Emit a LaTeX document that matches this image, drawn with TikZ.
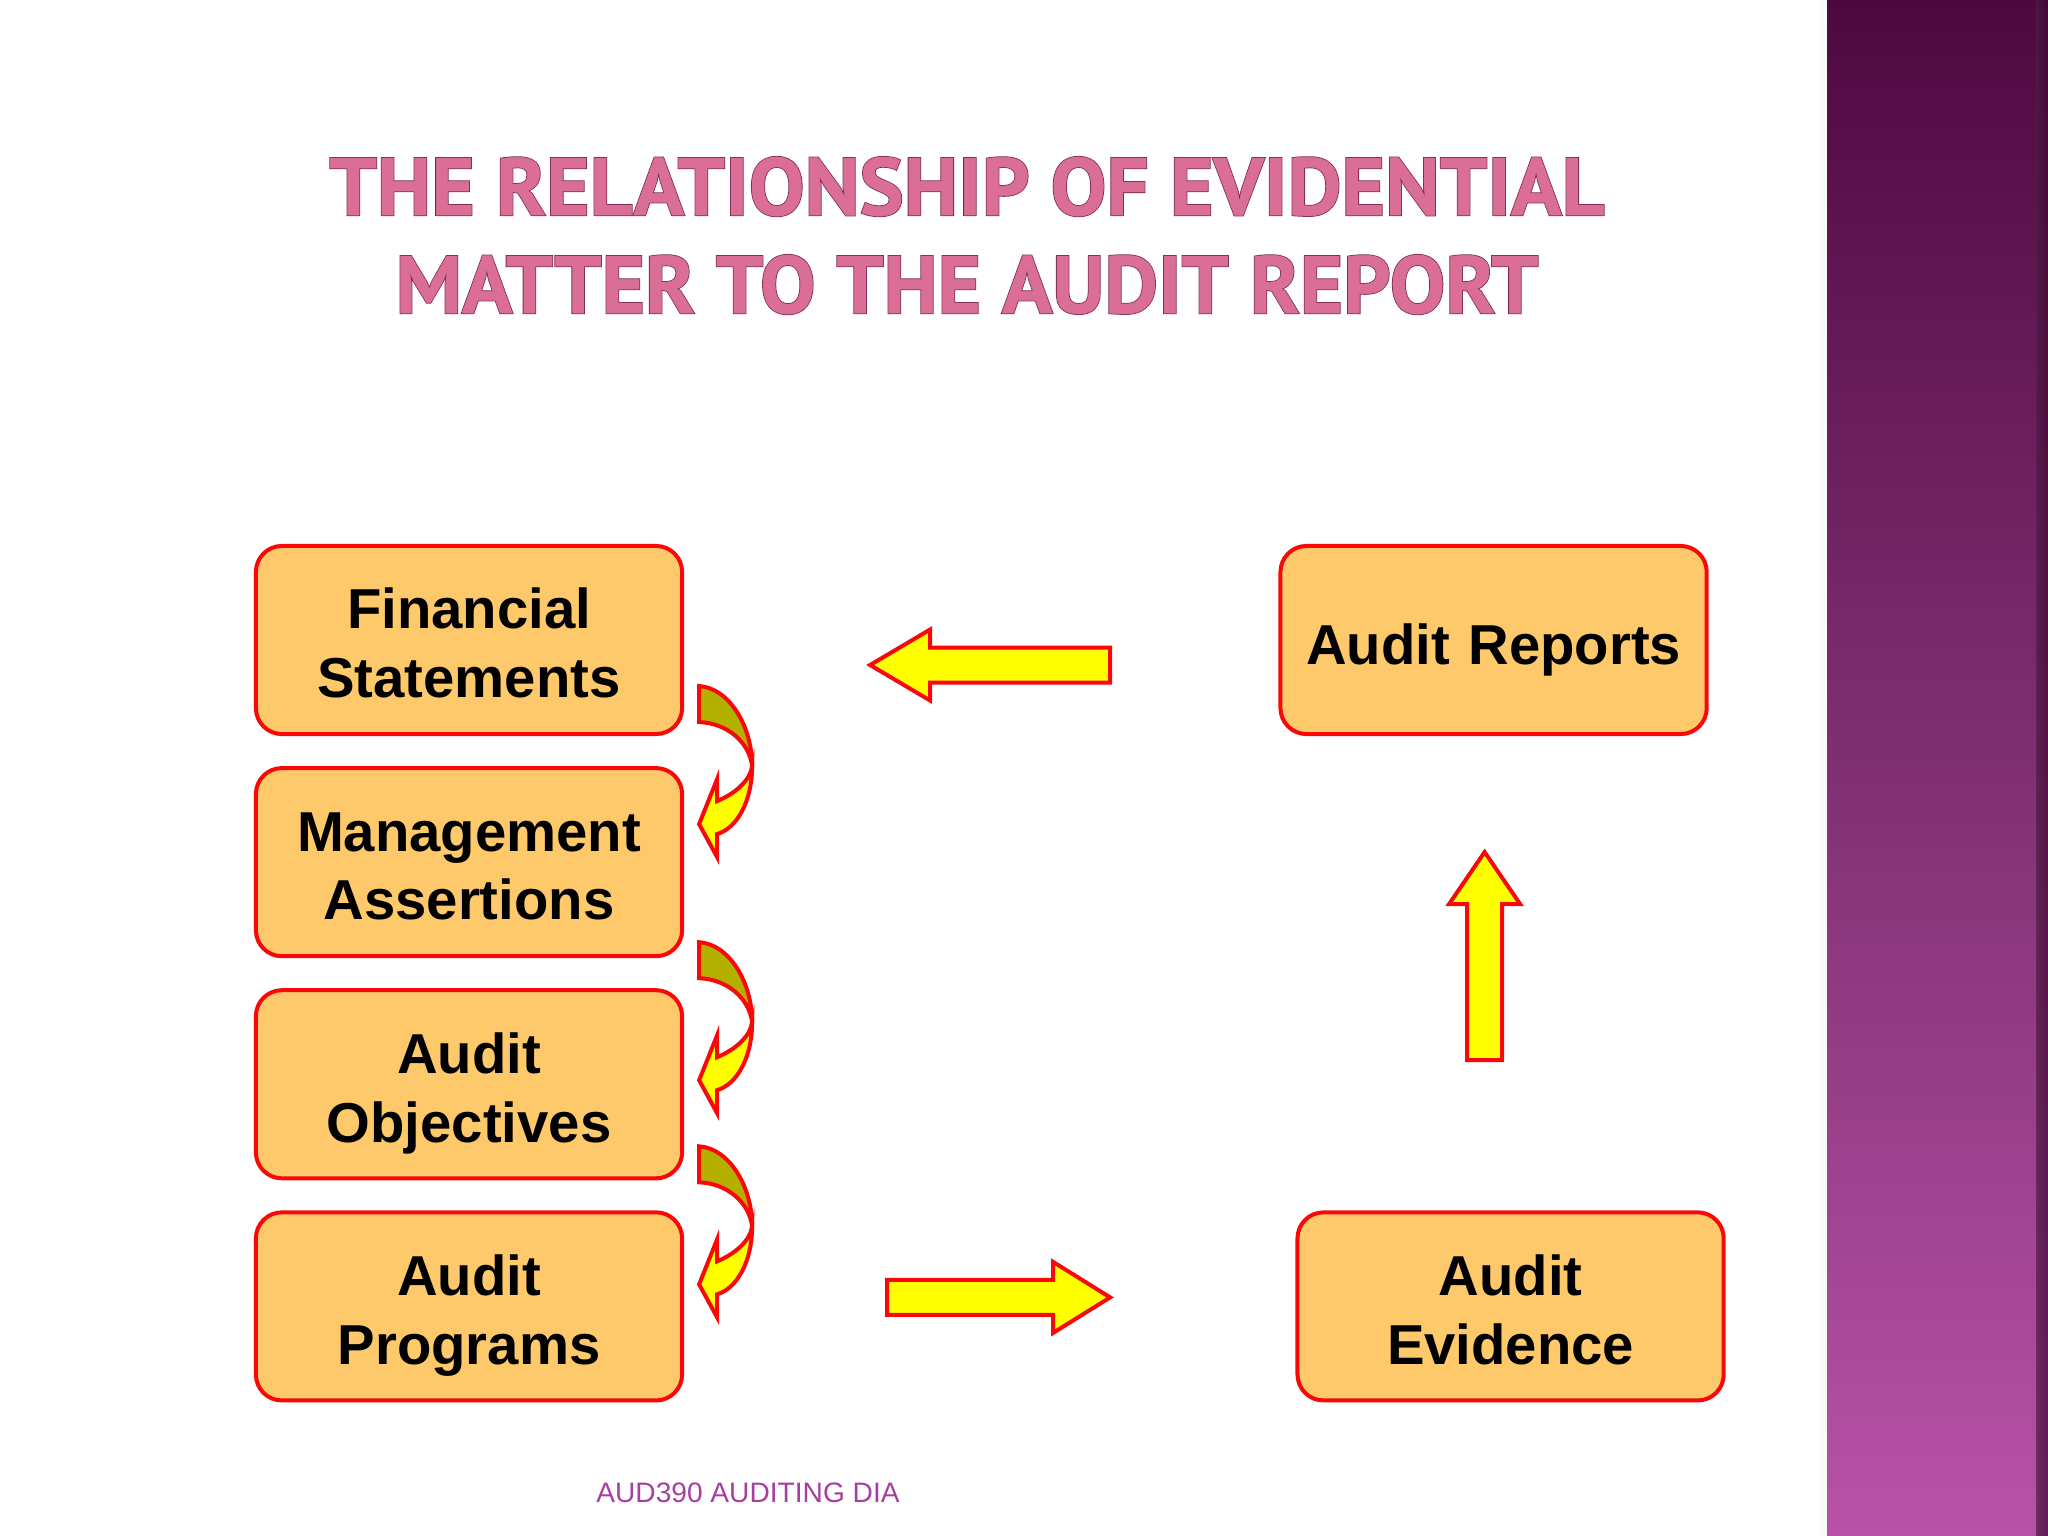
\documentclass[tikz,border=0pt]{standalone}
\usepackage{fontspec}
\setmainfont{Liberation Sans}
\newfontfamily\titlefont[FakeBold=0.6]{PT Sans Bold}
\newfontfamily\titleedgefont[FakeBold=2.5]{PT Sans Bold}
\usepackage{tikz}
\usetikzlibrary{calc}
\usetikzlibrary{positioning}

\definecolor{boxorange}{RGB}{254,201,106}
\definecolor{arrowred}{RGB}{250,8,8}
\definecolor{arrowyellow}{RGB}{255,255,0}
\definecolor{arrowolive}{RGB}{180,176,0}
\definecolor{titlepink}{RGB}{218,110,150}
\definecolor{titleedge}{RGB}{120,40,80}
\definecolor{footpurple}{RGB}{168,62,160}
\definecolor{bartop}{RGB}{78,8,64}
\definecolor{barmid}{RGB}{128,48,114}
\definecolor{barbottom}{RGB}{184,82,168}

\newcommand{\titleline}[2]{\resizebox{#1}{0.58cm}{%
  \rlap{\textcolor{titleedge}{\titleedgefont #2}}\textcolor{titlepink}{\titlefont #2}}}

\tikzset{
    stage/.style={
           rectangle,
           rounded corners=0.26cm,
           draw=arrowred, line width=0.04cm,
           fill=boxorange,
           minimum width=4.26cm,
           minimum height=1.88cm,
           text width=4.1cm,
           text height=12pt, text depth=18.3pt,
           inner sep=2pt,
           align=center,
           font=\bfseries\fontsize{16}{19.6}\selectfont,
           },
    blockarrow/.style={draw=arrowred, line width=0.04cm, line join=miter},
    % straight block arrow, tip at the origin, pointing left
    pics/flatarrow/.style 2 args={code={
        \draw[blockarrow, fill=arrowyellow] (0,0) -- (#2,-35.5) -- (#2,-17.5) -- (#1,-17.5)
           -- (#1,17.5) -- (#2,17.5) -- (#2,35.5) -- cycle;
    }},
    % curved block arrow, origin at the top of its tail
    pics/bendarrow/.style={code={
        \draw[blockarrow, fill=arrowolive] (0,0) .. controls (30,2) and (53,40) .. (53,80)
           .. controls (50,56) and (28,37) .. (0,36) -- cycle;
        \draw[blockarrow, fill=arrowyellow] (53,80) .. controls (53,115) and (38,142) .. (18,148)
           -- (18,171) -- (0,138) -- (18,93) -- (18,115)
           .. controls (35,108) and (51,95) .. (53,80) -- cycle;
    }},
}

\begin{document}
\begin{tikzpicture}[x=0.01cm, y=-0.01cm]

 \useasboundingbox (0,0) rectangle (2048,1536);
 \fill[white!98!black] (0,0) rectangle (2048,1536);
 \fill[white] (0,0) rectangle (1820,1536);

 % purple band on the right
 \shade[top color=bartop, bottom color=barbottom, middle color=barmid]
   (1827,0) rectangle (2048,1536);
 \shade[left color=barmid!60!black, right color=bartop!80!black, opacity=0.7]
   (2036,0) rectangle (2048,1536);

 % title
 \node[anchor=base, inner sep=0pt] (Title1) at (967,215) {\titleline{12.74cm}{THE RELATIONSHIP OF EVIDENTIAL}};
 \node[anchor=base, inner sep=0pt] (Title2) at (967,313) {\titleline{11.42cm}{MATTER TO THE AUDIT REPORT}};


 \node[stage] (FinStat) at (469,640) {Financial\\Statements};

 \node[stage,        % layout (defined above)
  below=0.30cm of FinStat] (Assert)
  {Management\\Assertions};

 \node[stage,
  below=0.30cm of Assert] (Objectives)
  {Audit\\Objectives};

 \node[stage,
  below=0.30cm of Objectives] (Programs)
  {Audit\\Programs};

 \node[stage,
  text height=13.7pt, text depth=0pt,   % one line only
  right=5.94cm of FinStat] (Reports)
  {Audit Reports};

 \node[stage,
  right=6.11cm of Programs] (Evidence)
  {Audit\\Evidence};


 % the bent arrows down the left column
 \pic at ($(FinStat.south east)+(15,-50)$) {bendarrow};
 \pic at ($(Assert.south east)+(15,-16)$) {bendarrow};
 \pic at ($(Objectives.south east)+(15,-34)$) {bendarrow};

 % the straight arrows
 \pic at ($(FinStat.east)+(186,25)$) {flatarrow={240}{60}};
 \pic[rotate=180] at ($(Programs.east)+(426,-9)$) {flatarrow={223}{57}};
 \pic[rotate=-90] at ($(Reports.south)+(-9,116)$) {flatarrow={208}{52}};

 % footer
 \node[text=footpurple, font=\fontsize{8}{9.6}\selectfont] (Footer) at (748,1493) {AUD390 AUDITING DIA};

\end{tikzpicture}
\end{document}
